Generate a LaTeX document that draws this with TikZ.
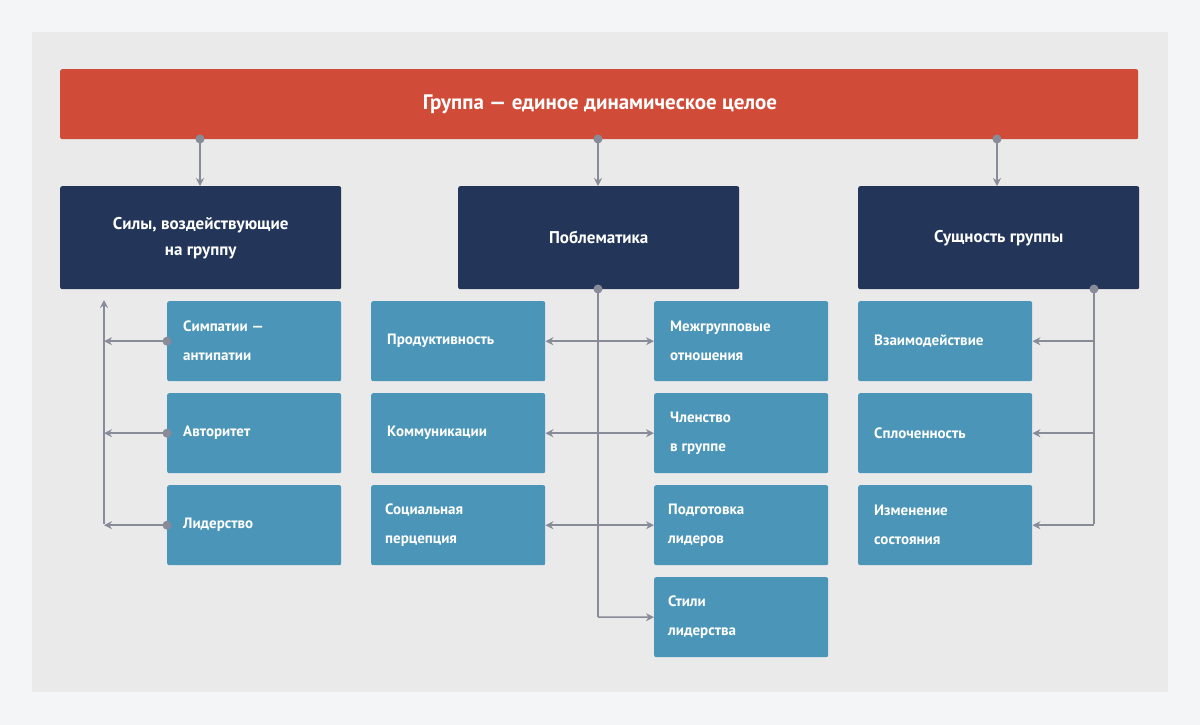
\documentclass[tikz,border=0pt]{standalone}
\usepackage{fontspec}
\setmainfont{PT Sans}
\usetikzlibrary{arrows.meta}
\definecolor{bgo}{HTML}{F4F5F6}
\definecolor{panel}{HTML}{EAEAEA}
\definecolor{redc}{HTML}{D04B38}
\definecolor{navy}{HTML}{23365A}
\definecolor{lblue}{HTML}{4B96B8}
\definecolor{con}{HTML}{878C98}
\tikzset{
 redbox/.style={fill=redc,rounded corners=2pt,text=white,font=\bfseries\fontsize{20}{24}\selectfont},
 navybox/.style={fill=navy,rounded corners=2pt,text=white,align=center,font=\bfseries\fontsize{17}{26}\selectfont,minimum width=281pt,minimum height=103pt,anchor=north west,inner sep=0pt},
 bluebox/.style={fill=lblue,rounded corners=2pt,text=white,align=left,font=\bfseries\fontsize{15}{29}\selectfont,minimum width=174pt,minimum height=80pt,anchor=north west,inner sep=0pt},
 btxt/.style={text=white,align=left,font=\bfseries\fontsize{15}{29}\selectfont,anchor=west,inner sep=0pt},
 conn/.style={draw=con,line width=1.5pt,-{Stealth[length=8pt,width=8pt]}},
 dconn/.style={draw=con,line width=1.5pt,{Stealth[length=8pt,width=8pt]}-{Stealth[length=8pt,width=8pt]}},
 dotc/.style={circle,fill=con,inner sep=0pt,minimum size=9pt}
}
\begin{document}
\begin{tikzpicture}[x=1pt,y=-1pt]
\fill[bgo] (0,0) rectangle (1200,725);
\fill[panel] (32,32) rectangle (1168,692);
\node[redbox,minimum width=1078pt,minimum height=70pt,anchor=north west,inner sep=0pt] (top) at (60,69) {};
\node[text=white,font=\bfseries\fontsize{21}{24}\selectfont] at (600,104) {Группа — единое динамическое целое};
\node[navybox] (n1) at (60,186) {Силы, воздействующие\\на группу};
\node[navybox] (n2) at (458,186) {Поблематика};
\node[navybox] (n3) at (858,186) {Сущность группы};
% blue boxes
\foreach \nm/\x/\y in {a1/167/301,a2/167/393,a3/167/485,b1/371/301,b2/371/393,b3/371/485,c1/654/301,c2/654/393,c3/654/485,c4/654/577,d1/858/301,d2/858/393,d3/858/485}
  \node[bluebox] (\nm) at (\x,\y) {};
\node[btxt] at ([xshift=16pt]a1.west) {Симпатии —\\антипатии};
\node[btxt] at ([xshift=16pt]a2.west) {Авторитет};
\node[btxt] at ([xshift=16pt]a3.west) {Лидерство};
\node[btxt] at ([xshift=16pt]b1.west) {Продуктивность};
\node[btxt] at ([xshift=16pt]b2.west) {Коммуникации};
\node[btxt] at ([xshift=14pt]b3.west) {Социальная\\перцепция};
\node[btxt] at ([xshift=16pt]c1.west) {Межгрупповые\\отношения};
\node[btxt] at ([xshift=16pt]c2.west) {Членство\\в группе};
\node[btxt] at ([xshift=14pt]c3.west) {Подготовка\\лидеров};
\node[btxt] at ([xshift=14pt]c4.west) {Стили\\лидерства};
\node[btxt] at ([xshift=16pt]d1.west) {Взаимодействие};
\node[btxt] at ([xshift=16pt]d2.west) {Сплоченность};
\node[btxt] at ([xshift=16pt]d3.west) {Изменение\\состояния};
% top connectors
\foreach \xx/\nn in {200/n1,598/n2,997/n3}{
  \draw[conn] (\xx,139) -- (\nn.north -| \xx,0);
  \node[dotc] at (\xx,139) {};
}
% left
\coordinate (lt) at (104,300);
\coordinate (lb) at (104,524);
\draw[conn] (lb) -- (lt);
\foreach \nm in {a1,a2,a3}{
  \draw[conn] (\nm.west) -- (\nm.west -| lt);
  \node[dotc] at (\nm.west) {};
}
% middle
\coordinate (mt) at (598,289);
\coordinate (mb) at (598,617);
\draw[con,line width=1.5pt] (mt) -- (mb);
\node[dotc] at (mt) {};
\draw[dconn] (b1.east) -- (c1.west);
\draw[dconn] (b2.east) -- (c2.west);
\draw[dconn] (b3.east) -- (c3.west);
\draw[conn] (mb) -- (c4.west);
% right
\coordinate (rt) at (1094,289);
\coordinate (rb) at (1094,524);
\draw[con,line width=1.5pt] (rt) -- (rb);
\node[dotc] at (rt) {};
\foreach \nm in {d1,d2,d3}
  \draw[conn] (\nm.east -| rt) -- (\nm.east);
\end{tikzpicture}
\end{document}
